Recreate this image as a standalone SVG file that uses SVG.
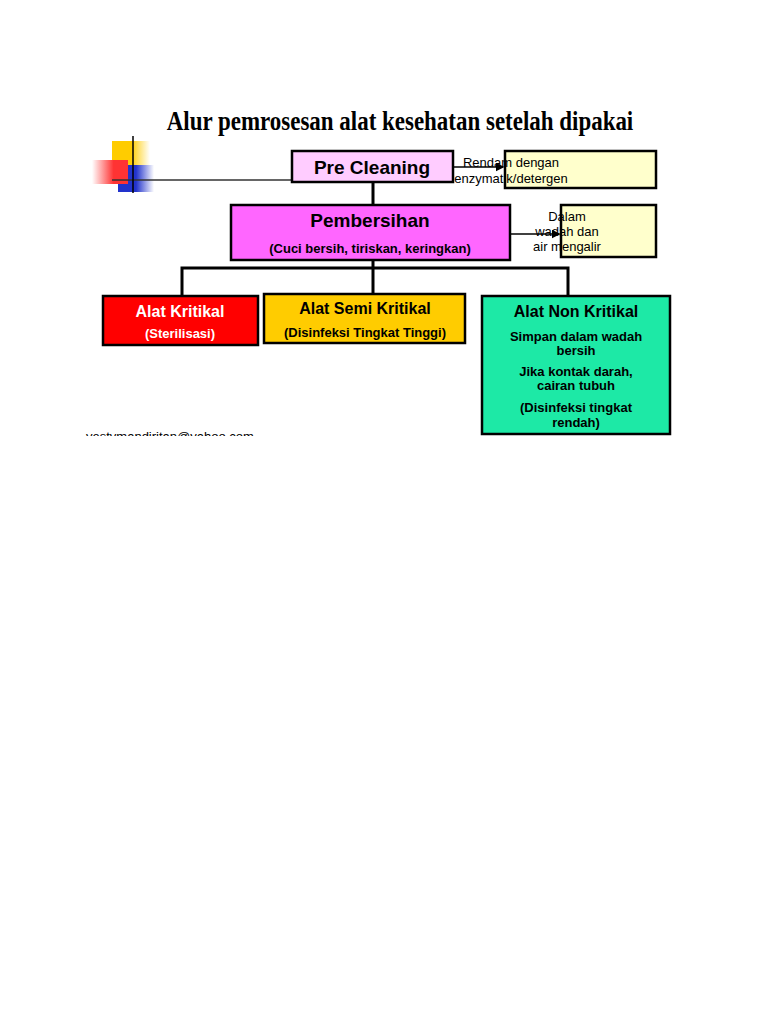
<svg xmlns="http://www.w3.org/2000/svg" width="768" height="1024" viewBox="0 0 768 1024">
<style>
.b{stroke:#000;stroke-width:2.5}
.t{font-family:"Liberation Sans",Arial,sans-serif;font-weight:bold;text-anchor:middle}
.n{font-family:"Liberation Sans",Arial,sans-serif;text-anchor:middle;font-size:13px}
.c{stroke:#000;stroke-width:3;fill:none}
</style>
<defs>
<marker id="a" markerWidth="6" markerHeight="6" refX="5" refY="3" orient="auto"><path d="M0,0L6,3L0,6z" fill="#000"/></marker>
<linearGradient id="r" x1="0" x2="1"><stop offset="0" stop-color="#fff"/><stop offset="0.6" stop-color="#f33"/></linearGradient>
<linearGradient id="bl" x1="0" x2="1"><stop offset="0.5" stop-color="#2233cc"/><stop offset="1" stop-color="#fff"/></linearGradient>
<linearGradient id="y" x1="0" x2="1"><stop offset="0.5" stop-color="#ffcc00"/><stop offset="1" stop-color="#fff"/></linearGradient>
<clipPath id="cp"><rect x="0" y="0" width="768" height="436"/></clipPath>
</defs>
<rect width="768" height="1024" fill="#fff"/>
<text x="400" y="130" font-family="Liberation Serif,serif" font-weight="bold" font-size="28" text-anchor="middle" transform="translate(400 0) scale(0.82 1) translate(-400 0)" fill="#000">Alur pemrosesan alat kesehatan setelah dipakai</text>
<g id="deco">
<rect x="112" y="141" width="38" height="30" fill="url(#y)"/>
<rect x="118" y="165" width="36" height="27" fill="url(#bl)"/>
<rect x="92" y="160" width="36" height="24" fill="url(#r)"/>
<line x1="112" y1="180" x2="292" y2="180" stroke="#333" stroke-width="1.5"/>
<line x1="133" y1="136" x2="133" y2="193" stroke="#000" stroke-width="1.5"/>
</g>
<g id="connectors">
<line class="c" stroke-width="1.5" x1="453" y1="167" x2="503" y2="167" marker-end="url(#a)" style="stroke-width:1.5"/>
<line class="c" style="stroke-width:1.5" x1="510" y1="234" x2="559" y2="234" marker-end="url(#a)"/>
<path class="c" d="M373,182V205M373,260V268M182,296V268H568V297M373,268V295"/>
</g>
<g id="precleaning"><rect class="b" x="292" y="151" width="161" height="31" fill="#ffccff"/><text class="t" x="372" y="174" font-size="19">Pre Cleaning</text></g>
<g id="rendam"><rect class="b" x="505" y="151" width="151" height="37" fill="#ffffcc"/><text class="n" x="511" y="167" text-anchor="start">Rendam dengan</text><text class="n" x="511" y="183" text-anchor="start">enzymatik/detergen</text></g>
<g id="pembersihan"><rect class="b" x="231" y="205" width="279" height="55" fill="#ff66ff"/><text class="t" x="370" y="227" font-size="19">Pembersihan</text><text class="t" x="370" y="253" font-size="13">(Cuci bersih, tiriskan, keringkan)</text></g>
<g id="dalam"><rect class="b" x="561" y="205" width="95" height="52" fill="#ffffcc"/><text class="n" x="567" y="221" text-anchor="start">Dalam</text><text class="n" x="567" y="236" text-anchor="start">wadah dan</text><text class="n" x="567" y="251" text-anchor="start">air mengalir</text></g>
<g id="kritikal"><rect class="b" x="103" y="296" width="155" height="49" fill="#ff0000"/><text class="t" x="180" y="317" font-size="16" fill="#fff">Alat Kritikal</text><text class="t" x="180" y="338" font-size="13" fill="#fff">(Sterilisasi)</text></g>
<g id="semi"><rect class="b" x="264" y="294" width="201" height="49" fill="#ffcc00"/><text class="t" x="365" y="314" font-size="16">Alat Semi Kritikal</text><text class="t" x="365" y="337" font-size="13">(Disinfeksi Tingkat Tinggi)</text></g>
<g id="non"><rect class="b" x="482" y="296" width="188" height="138" fill="#1de9a6"/>
<text class="t" x="576" y="317" font-size="16">Alat Non Kritikal</text>
<text class="t" x="576" y="341" font-size="13">Simpan dalam wadah</text>
<text class="t" x="576" y="355" font-size="13">bersih</text>
<text class="t" x="576" y="376" font-size="13">Jika kontak darah,</text>
<text class="t" x="576" y="390" font-size="13">cairan tubuh</text>
<text class="t" x="576" y="412" font-size="13">(Disinfeksi tingkat</text>
<text class="t" x="576" y="427" font-size="13">rendah)</text></g>
<text x="86" y="441" clip-path="url(#cp)" font-family="Liberation Sans,Arial,sans-serif" font-size="13" fill="#000">yestymandiritan@yahoo.com</text>
</svg>
